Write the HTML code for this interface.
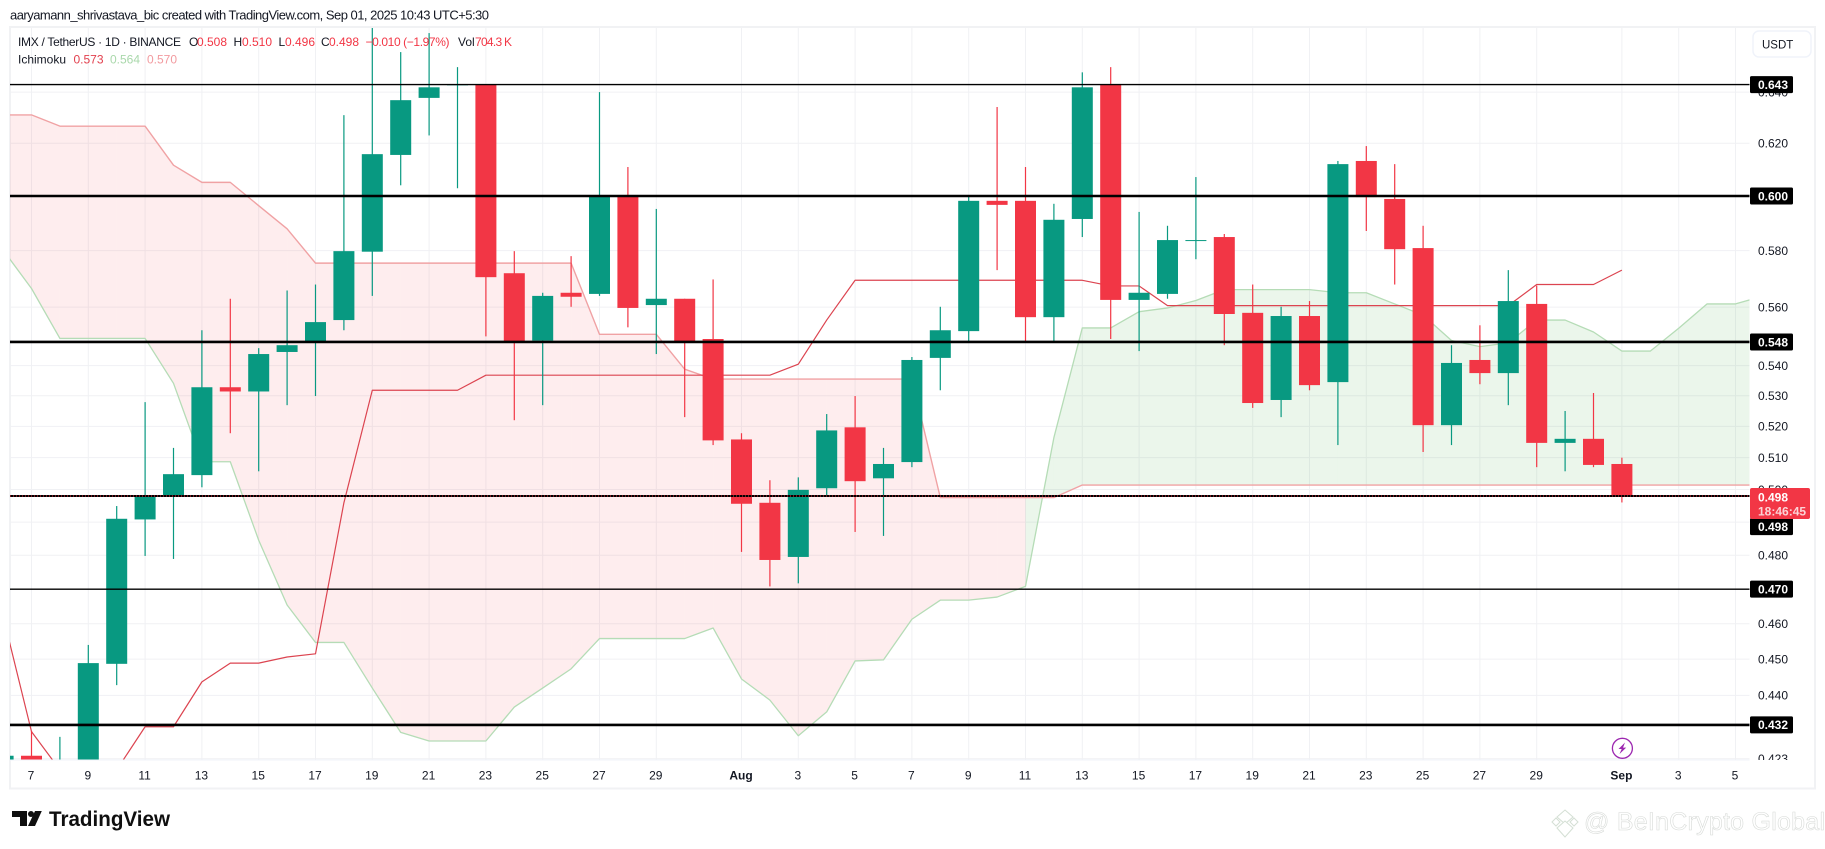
<!DOCTYPE html>
<html lang="en">
<head>
<meta charset="utf-8">
<title>IMX / TetherUS 1D chart</title>
<style>
html,body{margin:0;padding:0;background:#fff;width:1825px;height:849px;overflow:hidden}
svg{display:block}
text{font-family:"Liberation Sans",sans-serif}
</style>
</head>
<body>
<svg id="chart" xmlns="http://www.w3.org/2000/svg" width="1825" height="849" viewBox="0 0 1825 849">
  <defs>
    <clipPath id="pane-clip"><rect x="10" y="28" width="1739.5" height="732"/></clipPath>
    <clipPath id="axis-clip"><rect x="1750" y="28" width="64" height="732"/></clipPath>
  </defs>
  <rect x="0" y="0" width="1825" height="849" fill="#ffffff"/>
  <text x="10" y="19.5" font-size="13" fill="#131722" textLength="479" lengthAdjust="spacing">aaryamann_shrivastava_bic created with TradingView.com, Sep 01, 2025 10:43 UTC+5:30</text>
  <rect x="10" y="27" width="1805" height="761.5" fill="#ffffff" stroke="#f1f2f4" stroke-width="2"/>
  <g id="grid-layer" clip-path="url(#pane-clip)"></g>
  <g id="cloud-layer" clip-path="url(#pane-clip)"></g>
  <g id="line-layer" clip-path="url(#pane-clip)"></g>
  <g id="candle-layer" clip-path="url(#pane-clip)"></g>
  <g id="level-layer"></g>
  <line x1="10" y1="760" x2="1749.5" y2="760" stroke="#f0f3fa" stroke-width="1"/>
  <g id="y-axis-layer" clip-path="url(#axis-clip)"></g>
  <g id="tag-layer"></g>
  <g id="x-axis-layer"></g>

  <g>
    <rect x="1750" y="488" width="60" height="31" rx="2" fill="#f23645"/>
    <text x="1758" y="501.5" font-size="12" font-weight="700" fill="#ffffff">0.498</text>
    <text x="1758" y="515.5" font-size="12" font-weight="700" fill="#fbd3d6">18:46:45</text>
  </g>

  <g font-size="12">
    <text x="18" y="46" fill="#131722" textLength="163" lengthAdjust="spacing">IMX / TetherUS · 1D · BINANCE</text>
    <text x="189" y="46" fill="#131722">O</text>
    <text x="197" y="46" fill="#f23645">0.508</text>
    <text x="233.5" y="46" fill="#131722">H</text>
    <text x="242" y="46" fill="#f23645">0.510</text>
    <text x="278.5" y="46" fill="#131722">L</text>
    <text x="285" y="46" fill="#f23645">0.496</text>
    <text x="321" y="46" fill="#131722">C</text>
    <text x="329" y="46" fill="#f23645">0.498</text>
    <text x="365.5" y="46" fill="#f23645" textLength="84" lengthAdjust="spacing">−0.010 (−1.97%)</text>
    <text x="458" y="46" fill="#131722">Vol</text>
    <text x="475" y="46" fill="#f23645" textLength="37" lengthAdjust="spacing">704.3 K</text>
    <text x="18" y="63.5" fill="#131722">Ichimoku</text>
    <text x="73.5" y="63.5" fill="#e2404e">0.573</text>
    <text x="110" y="63.5" fill="#a9d8ab">0.564</text>
    <text x="147" y="63.5" fill="#f29a9f">0.570</text>
  </g>

  <g>
    <rect x="1753" y="31" width="58" height="26" rx="6" fill="#ffffff" stroke="#f0f3fa" stroke-width="1.5"/>
    <text x="1762" y="48.5" font-size="11.5" fill="#131722">USDT</text>
  </g>

  <g>
    <circle cx="1622.4" cy="748.3" r="10" fill="#ffffff" stroke="#9c27b0" stroke-width="1.3"/>
    <polygon points="1625,742.5 1618.5,749 1621.7,749 1619.5,754 1626.2,747.6 1623,747.6" fill="#9c27b0"/>
  </g>

  <g>
    <polygon points="12,811 27,811 27,826 20,826 20,817 12,817" fill="#0f0f0f"/>
    <circle cx="31" cy="814" r="3" fill="#0f0f0f"/>
    <polygon points="35,811 41.8,811 35,826 28,826" fill="#0f0f0f"/>
    <text x="49" y="826" font-size="21" font-weight="700" fill="#0f0f0f" textLength="121" lengthAdjust="spacingAndGlyphs">TradingView</text>
  </g>

  <g>
    <g fill="#ffffff" stroke="#d4dfd4" stroke-width="1">
      <polygon points="1565,810 1573,817 1565,824 1557,817"/>
      <polygon points="1556,818 1560,822 1556,826 1552,822"/>
      <polygon points="1574,818 1578,822 1574,826 1570,822"/>
      <polygon points="1557,828 1565,821 1573,828 1565,837"/>
    </g>
    <text x="1584" y="830" font-size="25" fill="#ffffff" stroke="#d8dbd8" stroke-width="0.6" textLength="241" lengthAdjust="spacing">@ BeInCrypto Global</text>
  </g>
</svg>

<script>
const dates = ['Jul 6','Jul 7','Jul 8','Jul 9','Jul 10','Jul 11','Jul 12','Jul 13','Jul 14','Jul 15','Jul 16','Jul 17','Jul 18','Jul 19','Jul 20','Jul 21','Jul 22','Jul 23','Jul 24','Jul 25','Jul 26','Jul 27','Jul 28','Jul 29','Jul 30','Jul 31','Aug 1','Aug 2','Aug 3','Aug 4','Aug 5','Aug 6','Aug 7','Aug 8','Aug 9','Aug 10','Aug 11','Aug 12','Aug 13','Aug 14','Aug 15','Aug 16','Aug 17','Aug 18','Aug 19','Aug 20','Aug 21','Aug 22','Aug 23','Aug 24','Aug 25','Aug 26','Aug 27','Aug 28','Aug 29','Aug 30','Aug 31','Sep 1'];
const opens = [.4149,.4238,.4149,.4201,.4487,.4908,.4977,.5045,.5328,.5314,.5446,.5478,.5555,.5796,.6155,.6377,.6430,.6430,.5719,.5485,.5650,.5646,.6000,.5607,.5629,.5490,.5158,.4959,.4795,.5004,.5197,.5035,.5086,.5426,.5517,.5982,.5982,.5565,.5915,.6430,.5625,.5646,.5836,.5849,.5580,.5286,.5569,.5345,.6132,.5989,.5809,.5204,.5419,.5375,.5611,.5147,.5160,.5080];
const highs = [.4254,.4304,.4288,.4540,.4949,.5279,.5131,.5520,.5629,.5459,.5658,.5679,.6309,.6695,.6561,.6639,.6500,.6431,.5798,.5650,.5780,.6400,.6109,.5952,.5629,.5697,.5178,.5029,.5038,.5240,.5299,.5131,.5429,.5601,.6000,.6341,.6109,.5971,.6479,.6500,.5941,.5890,.6071,.5860,.5679,.5601,.5621,.6132,.6189,.6120,.5890,.5469,.5537,.5730,.5675,.5250,.5309,.5100];
const lows = [.4123,.4162,.4123,.4175,.4428,.4798,.4789,.5007,.5178,.5057,.5269,.5299,.5520,.5639,.6040,.6230,.6029,.5499,.5220,.5269,.5601,.5639,.5530,.5439,.5230,.5140,.4810,.4708,.4717,.4980,.4870,.4858,.5070,.5318,.5482,.5730,.5481,.5482,.5849,.5490,.5449,.5629,.5769,.5469,.5260,.5230,.5318,.5140,.5871,.5679,.5118,.5140,.5338,.5269,.5070,.5057,.5070,.4960];
const closes = [.4238,.4188,.4214,.4489,.4910,.4977,.5048,.5328,.5314,.5439,.5469,.5548,.5798,.6158,.6368,.6419,.6431,.5705,.5482,.5639,.5636,.6000,.5597,.5629,.5481,.5155,.4956,.4786,.4999,.5187,.5026,.5080,.5419,.5520,.5982,.5967,.5565,.5912,.6419,.5625,.5650,.5838,.5838,.5576,.5276,.5569,.5335,.6120,.5996,.5805,.5204,.5409,.5375,.5621,.5147,.5160,.5077,.4980];

const baseLine = [.4622,.4302,.4201,.4149,.4201,.4315,.4315,.4437,.4489,.4489,.4506,.4515,.4959,.5318,.5318,.5318,.5318,.5368,.5368,.5368,.5368,.5368,.5368,.5368,.5368,.5368,.5368,.5368,.5405,.5555,.5694,.5694,.5694,.5694,.5694,.5694,.5694,.5694,.5694,.5674,.5674,.5605,.5605,.5605,.5605,.5605,.5605,.5605,.5605,.5605,.5605,.5605,.5605,.5605,.5679,.5679,.5679,.5730];
const spanA = [.5802,.5665,.5492,.5492,.5492,.5492,.5341,.5087,.5087,.4845,.4654,.4547,.4547,.4420,.4300,.4277,.4277,.4277,.4368,.4420,.4473,.4558,.4558,.4558,.4558,.4588,.4445,.4387,.4291,.4355,.4495,.4498,.4613,.4668,.4668,.4677,.4708,.5164,.5528,.5528,.5584,.5597,.5623,.5661,.5661,.5661,.5661,.5650,.5650,.5611,.5572,.5485,.5464,.5477,.5555,.5555,.5514,.5449,.5449,.5527,.5611,.5611,.5639];
const spanB = [.6310,.6310,.6266,.6266,.6266,.6266,.6116,.6051,.6051,.5964,.5879,.5755,.5755,.5755,.5755,.5755,.5755,.5755,.5755,.5755,.5755,.5506,.5506,.5506,.5388,.5355,.5355,.5355,.5355,.5355,.5355,.5355,.5355,.4975,.4975,.4975,.4975,.4975,.5014,.5014,.5014,.5014,.5014,.5014,.5014,.5014,.5014,.5014,.5014,.5014,.5014,.5014,.5014,.5014,.5014,.5014,.5014,.5014,.5014,.5014,.5014,.5014,.5014];

const priceTicks = [.640,.620,.600,.580,.560,.540,.530,.520,.510,.500,.490,.480,.470,.460,.450,.440,.423];
const timeTickDays = [0,2,4,6,8,10,12,14,16,18,20,22,25,27,29,31,33,35,37,39,41,43,45,47,49,51,53,56,58,60];
const timeTickLabels = ['7','9','11','13','15','17','19','21','23','25','27','29','Aug','3','5','7','9','11','13','15','17','19','21','23','25','27','29','Sep','3','5'];
const levelPrices = [.643,.600,.548,.498,.470,.432];
const lastPrice = closes[closes.length - 1];

const SVG_NS = 'http://www.w3.org/2000/svg';
const GREEN = '#089981';
const RED = '#f23645';
const BOLD_TIME_LABELS = ['Aug', 'Sep'];
const THICK_LEVELS = [.600, .548, .432];
const firstDay = -1;

function xScale(day) { return 31.5 + 28.4 * day; }
function yScale(price) { return 196 + 1610 * Math.log(0.6 / price); }

function make(parentId, tag, attrs, textValue) {
  const node = document.createElementNS(SVG_NS, tag);
  Object.keys(attrs).forEach(function (k) { node.setAttribute(k, attrs[k]); });
  if (textValue !== undefined) node.textContent = textValue;
  document.getElementById(parentId).appendChild(node);
  return node;
}

// grid
priceTicks.forEach(function (p) {
  const yp = yScale(p);
  const g = make('grid-layer', 'line', { x1: 10, x2: 1750, y1: yp, y2: yp, stroke: '#f0f1f4', 'stroke-width': 1 });
  
  
});
timeTickDays.forEach(function (d) {
  const xp = xScale(d);
  const g = make('grid-layer', 'line', { x1: xp, x2: xp, y1: 28, y2: 760, stroke: '#f0f1f4', 'stroke-width': 1 });
  
  
});

// cloud
for (let i = 0; i < spanA.length - 1; i++) {
  const d0 = firstDay + i;
  const d1 = d0 + 1;
  const pts = [
    xScale(d0) + ',' + yScale(spanA[i]),
    xScale(d1) + ',' + yScale(spanA[i + 1]),
    xScale(d1) + ',' + yScale(spanB[i + 1]),
    xScale(d0) + ',' + yScale(spanB[i])
  ].join(' ');
  const bullish = spanA[i + 1] >= spanB[i + 1];
  const quad = make('cloud-layer', 'polygon', { points: pts, fill: bullish ? '#4caf50' : '#f23645', 'fill-opacity': bullish ? 0.115 : 0.09 });
  
  
}

function polyline(values, color, width) {
  const pts = values.map(function (v, i) { return xScale(firstDay + i) + ',' + yScale(v); }).join(' ');
  return make('line-layer', 'polyline', { points: pts, fill: 'none', stroke: color, 'stroke-width': width, 'stroke-linejoin': 'round' });
}
const spanALine = polyline(spanA, '#b5dcb6', 1.3);


const spanBLine = polyline(spanB, '#f0a2a4', 1.4);


const baseSeries = polyline(baseLine, '#dc4450', 1.2);



// candles
dates.forEach(function (label, i) {
  const xc = xScale(firstDay + i);
  const up = closes[i] >= opens[i];
  const color = up ? GREEN : RED;
  const top = yScale(Math.max(opens[i], closes[i]));
  const bottom = yScale(Math.min(opens[i], closes[i]));
  const wick = make('candle-layer', 'rect', { x: xc - 0.6, width: 1.2, y: yScale(highs[i]), height: yScale(lows[i]) - yScale(highs[i]), fill: color });
  
  
  const body = make('candle-layer', 'rect', { x: xc - 10.5, width: 21, y: top, height: Math.max(bottom - top, 1), fill: color });
  
  
});

// y axis labels
priceTicks.forEach(function (p) {
  const t = make('y-axis-layer', 'text', { x: 1758, y: yScale(p) + 4.3, 'font-size': 12, fill: '#131722' }, p.toFixed(3));
  
  
});

// x axis labels
timeTickDays.forEach(function (d, i) {
  const label = timeTickLabels[i];
  const t = make('x-axis-layer', 'text', { x: xScale(d) - 0.5, y: 779.3, 'font-size': 12, 'text-anchor': 'middle', fill: '#131722', 'font-weight': BOLD_TIME_LABELS.indexOf(label) >= 0 ? 700 : 400 }, label);
  
  
});

// levels + tags
levelPrices.forEach(function (p) {
  const yp = yScale(p);
  const thick = THICK_LEVELS.indexOf(p) >= 0;
  const isLast = p === lastPrice;
  const ln = make('level-layer', 'line', { x1: 10, x2: 1749.5, y1: yp, y2: yp, stroke: '#000000', 'stroke-width': thick ? 2.6 : (isLast ? 2 : 1.4) });
  
  
  const tagCenter = isLast ? yp + 30.6 : yp;
  const box = make('tag-layer', 'rect', { x: 1750, y: tagCenter - 8.5, width: 43, height: 17, rx: 1.5, fill: '#000000' });
  
  
  const txt = make('tag-layer', 'text', { x: 1758, y: tagCenter + 4.3, 'font-size': 12, 'font-weight': 700, fill: '#ffffff' }, p.toFixed(3));
  
  
});

// last price dotted line
const lastLine = make('level-layer', 'line', { x1: 10, x2: 1749.5, y1: yScale(lastPrice), y2: yScale(lastPrice), stroke: RED, 'stroke-width': 1, 'stroke-dasharray': '1 2' });


</script>
</body>
</html>
